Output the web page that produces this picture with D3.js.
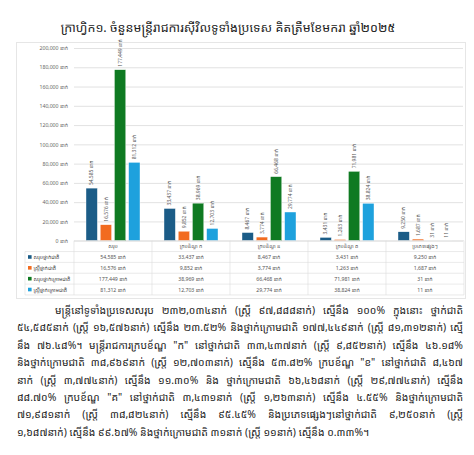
<!DOCTYPE html>
<html>
<head>
<meta charset="utf-8">
<script src="https://cdn.jsdelivr.net/npm/d3@7"></script>
<style>
  body { margin: 0; background: #fff; }
  #page { position: relative; width: 474px; height: 455px; overflow: hidden; }
  .kh { font-family: "Noto Sans Khmer", "Khmer OS", "Khmer OS System", "Noto Sans", sans-serif; }
  .para-line { position: absolute; left: 17px; width: 446px; font-size: 10.4px; color: #222;
    white-space: nowrap; text-align: justify; text-align-last: justify; line-height: 17px; }
</style>
</head>
<body>
<div id="page"></div>
<script>
// chart data
const categories = ['សរុប', 'ក្របខ័ណ្ឌ ក', 'ក្របខ័ណ្ឌ ខ', 'ក្របខ័ណ្ឌ គ', 'ប្រភេទផ្សេងៗ']
const seriesNames = ['សរុបថ្នាក់ជាតិ', 'ស្ត្រីថ្នាក់ជាតិ', 'សរុបថ្នាក់ក្រោមជាតិ', 'ស្ត្រីថ្នាក់ក្រោមជាតិ']
const totalNational = [54585, 33437, 8467, 3431, 9250]
const womenNational = [16576, 9852, 3774, 1263, 1687]
const totalSubNational = [177449, 38969, 66468, 71981, 31]
const womenSubNational = [81312, 12703, 29774, 38824, 11]
const yTicks = [0, 20000, 40000, 60000, 80000, 100000, 120000, 140000, 160000, 180000, 200000]
const colors = ['#1b5c87', '#f26b1f', '#0f7a22', '#1ea1dd']

const title = 'ក្រាហ្វិក១. ចំនួនមន្ត្រីរាជការស៊ីវិលទូទាំងប្រទេស គិតត្រឹមខែមករា ឆ្នាំ២០២៥'
const paragraph = [
  'មន្ត្រីនៅទូទាំងប្រទេសសរុប ២៣២,០៣៤នាក់ (ស្ត្រី ៩៧,៨៨៨នាក់) ស្មើនឹង ១០០% ក្នុងនោះ ថ្នាក់ជាតិ',
  '៥៤,៥៨៥នាក់ (ស្ត្រី ១៦,៥៧៦នាក់) ស្មើនឹង ២៣.៥២% និងថ្នាក់ក្រោមជាតិ ១៧៧,៤៤៩នាក់ (ស្ត្រី ៨១,៣១២នាក់) ស្មើ',
  'នឹង ៧៦.៤៨%។ មន្ត្រីរាជការក្របខ័ណ្ឌ "ក" នៅថ្នាក់ជាតិ ៣៣,៤៣៧នាក់ (ស្ត្រី ៩,៨៥២នាក់) ស្មើនឹង ៤៦.១៨%',
  'និងថ្នាក់ក្រោមជាតិ ៣៨,៩៦៩នាក់ (ស្ត្រី ១២,៧០៣នាក់) ស្មើនឹង ៥៣.៨២% ក្របខ័ណ្ឌ "ខ" នៅថ្នាក់ជាតិ ៨,៤៦៧',
  'នាក់ (ស្ត្រី ៣,៧៧៤នាក់) ស្មើនឹង ១១.៣០% និង ថ្នាក់ក្រោមជាតិ ៦៦,៤៦៨នាក់ (ស្ត្រី ២៩,៧៧៤នាក់) ស្មើនឹង',
  '៨៨.៧០% ក្របខ័ណ្ឌ "គ" នៅថ្នាក់ជាតិ ៣,៤៣១នាក់ (ស្ត្រី ១,២៦៣នាក់) ស្មើនឹង ៤.៥៥% និងថ្នាក់ក្រោមជាតិ',
  '៧១,៩៨១នាក់ (ស្ត្រី ៣៨,៨២៤នាក់) ស្មើនឹង ៩៥.៤៥% និងប្រភេទផ្សេងៗនៅថ្នាក់ជាតិ ៩,២៥០នាក់ (ស្ត្រី',
  '១,៦៨៧នាក់) ស្មើនឹង ៩៩.៦៧% និងថ្នាក់ក្រោមជាតិ ៣១នាក់ (ស្ត្រី ១១នាក់) ស្មើនឹង ០.៣៣%។'
]

const seriesValues = [totalNational, womenNational, totalSubNational, womenSubNational]
const unit = ' នាក់'
const fmt = d3.format(',')

const page = d3.select('#page')
const svg = page.append('svg')
  .attr('width', 474)
  .attr('height', 455)
  .style('position', 'absolute')
  .style('left', 0)
  .style('top', 0)

// panel
svg.append('rect')
  .attr('x', 16.5).attr('y', 42.5)
  .attr('width', 449).attr('height', 256)
  .attr('fill', '#fff')
  .attr('stroke', '#e6e6e6')

svg.append('text')
  .attr('class', 'kh')
  .attr('x', 228).attr('y', 32)
  .attr('text-anchor', 'middle')
  .attr('font-size', 12.5)
  .attr('fill', '#222')
  .text(title)

const plotLeft = 74
const plotRight = 464
const y = d3.scaleLinear().domain([0, 200000]).range([240.7, 48])
const x0 = d3.scaleBand().domain(categories).range([plotLeft, plotRight])
const x1 = d3.scaleBand().domain(seriesNames).range([12, 66]).paddingInner(0.2)

// gridlines + y labels
const yAxis = svg.append('g')
  .attr('transform', 'translate(' + plotLeft + ',0)')
  .call(d3.axisLeft(y).tickValues(yTicks).tickSize(-(plotRight - plotLeft - 1)).tickPadding(6)
    .tickFormat(d => fmt(d) + unit))
yAxis.select('.domain').remove()
yAxis.selectAll('.tick line').attr('stroke', '#e2e2e2')
yAxis.selectAll('.tick text')
  .attr('class', 'kh')
  .attr('font-size', 5.2)
  .attr('fill', '#666')

// bars
const groups = svg.append('g')
  .selectAll('g')
  .data(categories)
  .join('g')
  .attr('transform', d => 'translate(' + x0(d) + ',0)')

const barData = (cat, ci) => seriesNames.map((s, si) => ({ s, si, v: seriesValues[si][ci] }))

groups.selectAll('rect')
  .data((d, ci) => barData(d, ci))
  .join('rect')
  .attr('x', d => x1(d.s))
  .attr('width', x1.bandwidth())
  .attr('y', d => y(d.v))
  .attr('height', d => y(0) - y(d.v))
  .attr('fill', d => colors[d.si])
  .attr('stroke', '#fff')
  .attr('stroke-width', 0.4)

groups.selectAll('text.val')
  .data((d, ci) => barData(d, ci))
  .join('text')
  .attr('class', 'val kh')
  .attr('transform', d => 'translate(' + (x1(d.s) + x1.bandwidth() / 2 + 1.8) + ',' + (y(d.v) - 3) + ') rotate(-90)')
  .attr('font-size', 5)
  .attr('fill', '#555')
  .text(d => fmt(d.v) + unit)

// data table
const rowTop = 240.7
const rowH = 10.85
const legendLeft = 25
const table = svg.append('g')
  .attr('stroke', '#dcdcdc')
  .attr('stroke-width', 0.6)

table.append('line')
  .attr('x1', plotLeft).attr('x2', plotRight)
  .attr('y1', rowTop).attr('y2', rowTop)
d3.range(1, 6).forEach(r => {
  table.append('line')
    .attr('x1', legendLeft).attr('x2', plotRight)
    .attr('y1', rowTop + r * rowH).attr('y2', rowTop + r * rowH)
})
table.append('line')
  .attr('x1', legendLeft).attr('x2', legendLeft)
  .attr('y1', rowTop + rowH).attr('y2', rowTop + 5 * rowH)
categories.forEach(c => {
  table.append('line')
    .attr('x1', x0(c)).attr('x2', x0(c))
    .attr('y1', rowTop).attr('y2', rowTop + 5 * rowH)
})
table.append('line')
  .attr('x1', plotRight).attr('x2', plotRight)
  .attr('y1', rowTop).attr('y2', rowTop + 5 * rowH)

svg.append('g')
  .selectAll('text')
  .data(categories)
  .join('text')
  .attr('class', 'kh')
  .attr('x', d => x0(d) + x0.bandwidth() / 2)
  .attr('y', rowTop + rowH / 2 + 2)
  .attr('text-anchor', 'middle')
  .attr('font-size', 5.2)
  .attr('fill', '#555')
  .text(d => d)

const rows = svg.append('g')
  .selectAll('g')
  .data(seriesNames)
  .join('g')
  .attr('transform', (d, i) => 'translate(0,' + (rowTop + (i + 1) * rowH) + ')')

rows.append('rect')
  .attr('x', 28).attr('y', rowH / 2 - 1.8)
  .attr('width', 3.6).attr('height', 3.6)
  .attr('fill', (d, i) => colors[i])
rows.append('text')
  .attr('class', 'kh')
  .attr('x', 33.5).attr('y', rowH / 2 + 2)
  .attr('font-size', 5.2)
  .attr('fill', '#444')
  .text(d => d)
rows.selectAll('text.cell')
  .data((d, si) => categories.map((c, ci) => ({ c, v: seriesValues[si][ci] })))
  .join('text')
  .attr('class', 'cell kh')
  .attr('x', d => x0(d.c) + x0.bandwidth() / 2)
  .attr('y', rowH / 2 + 2)
  .attr('text-anchor', 'middle')
  .attr('font-size', 5.2)
  .attr('fill', '#555')
  .text(d => fmt(d.v) + unit)

// paragraph, one justified line per div
page.selectAll('div.para-line')
  .data(paragraph)
  .join('div')
  .attr('class', 'para-line kh')
  .style('top', (d, i) => (302 + i * 17.4) + 'px')
  .style('left', (d, i) => (i === 0 ? 55 : 17) + 'px')
  .style('width', (d, i) => (i === 0 ? 408 : 446) + 'px')
  .style('text-align-last', (d, i) => i === paragraph.length - 1 ? 'left' : 'justify')
  .text(d => d)
</script>
</body>
</html>
